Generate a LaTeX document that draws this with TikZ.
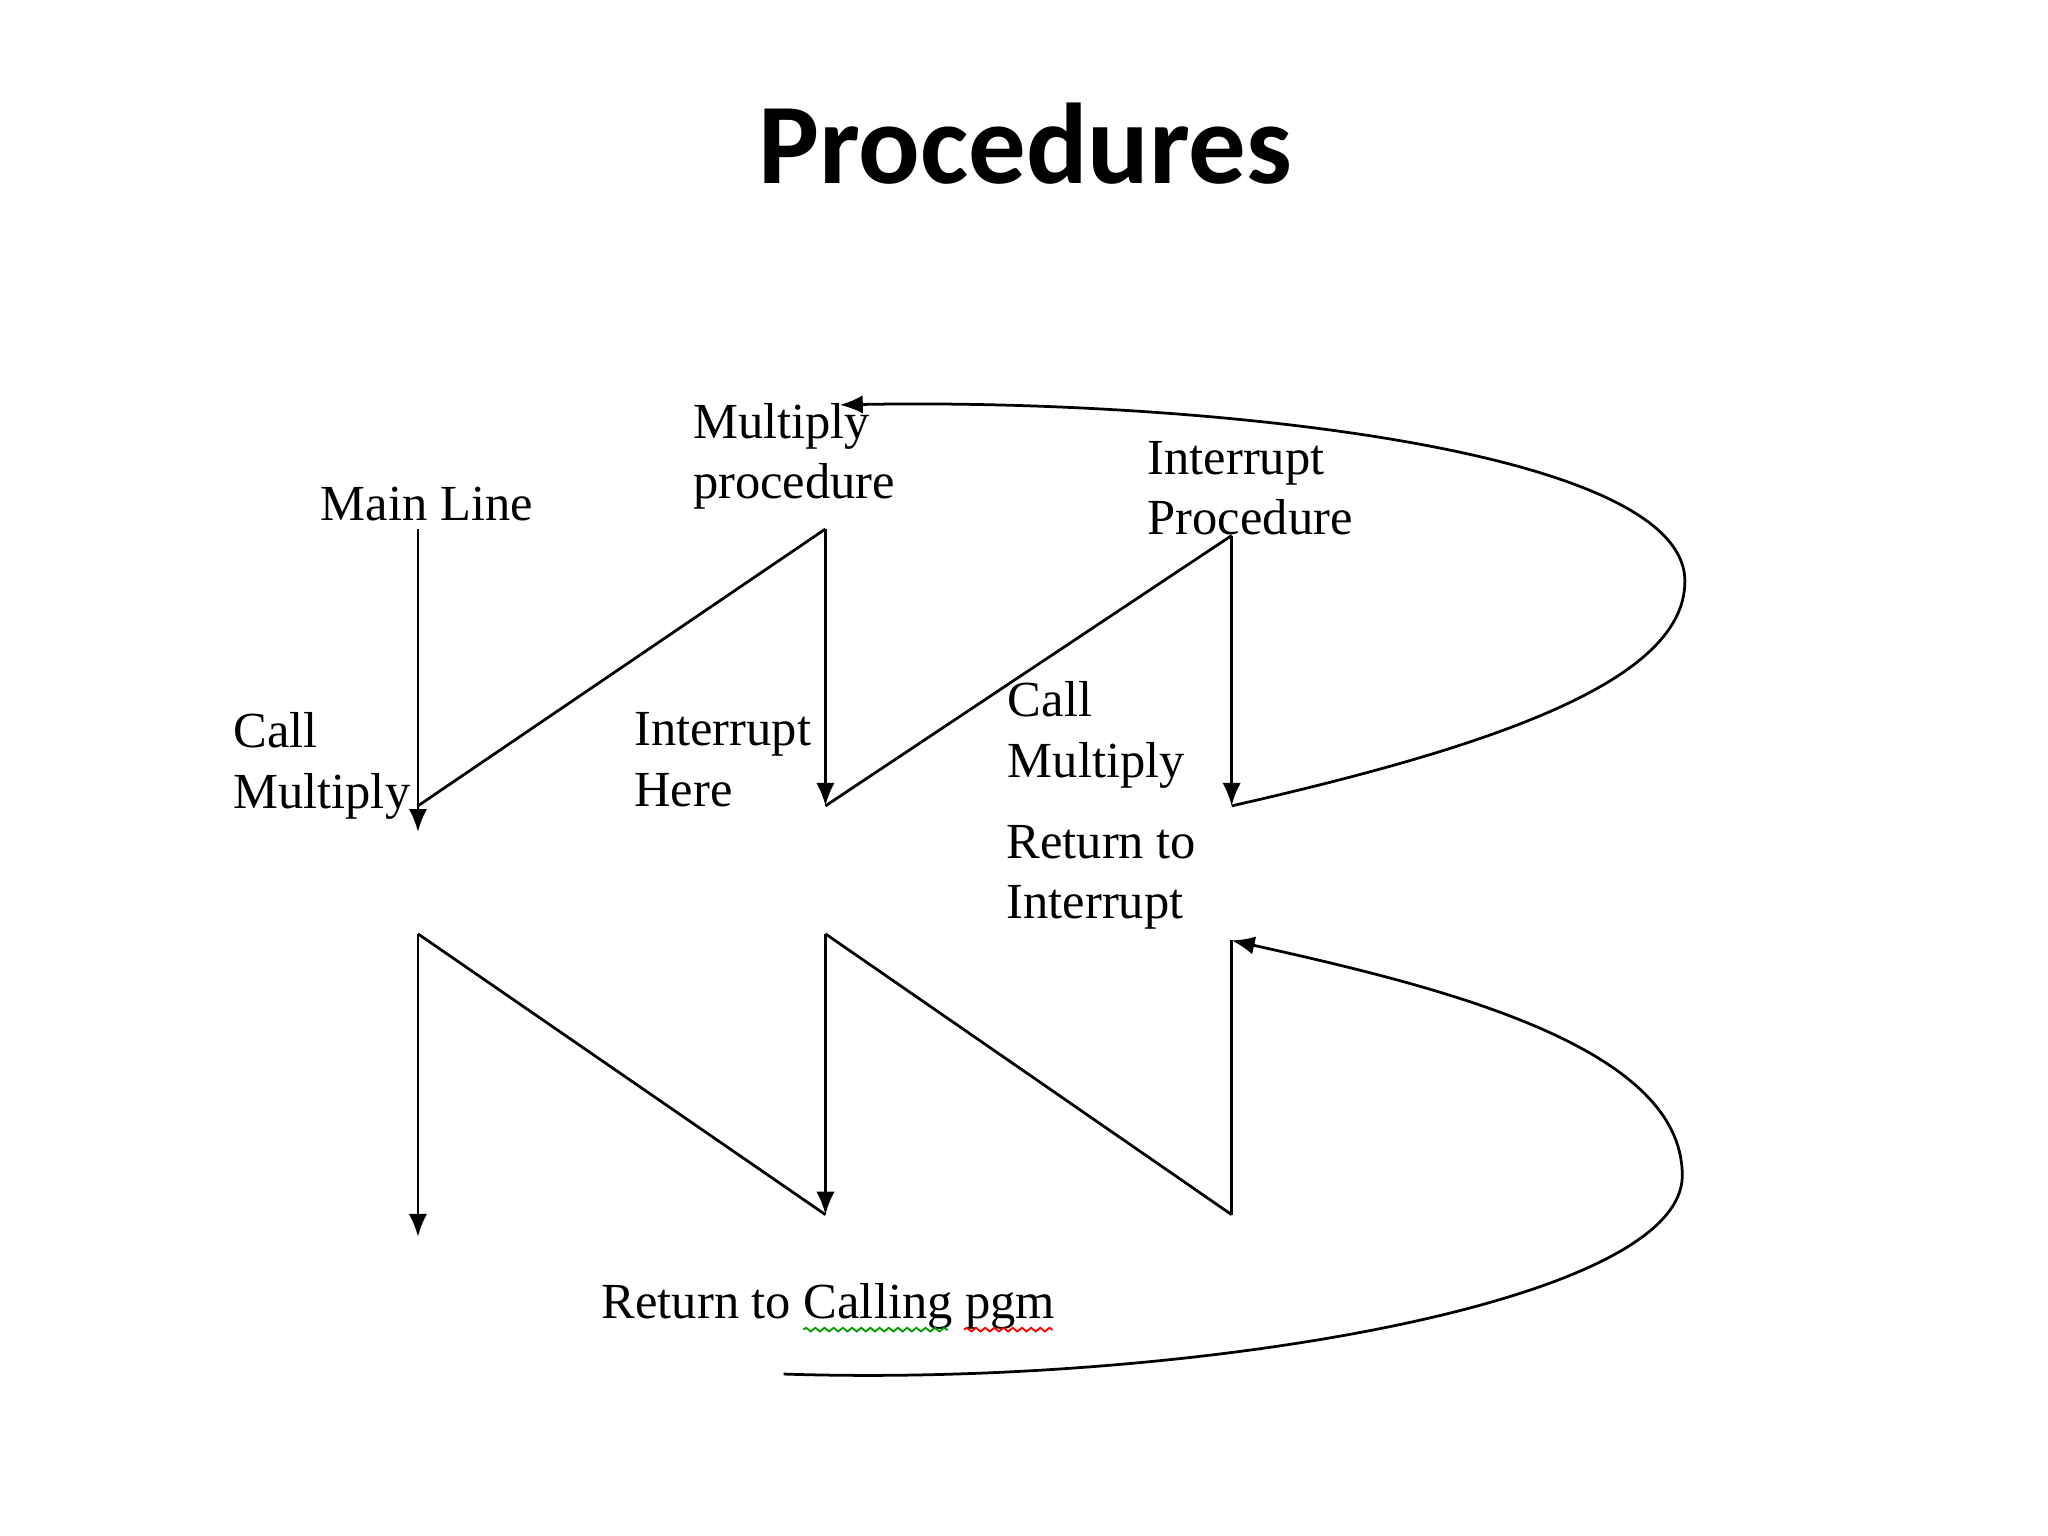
\documentclass[tikz,border=0pt]{standalone}
\usepackage{fontspec}
\setmainfont{Liberation Serif}
\newfontfamily\titlefont{Carlito}
\usetikzlibrary{decorations.pathmorphing,arrows.meta}
\begin{document}
\begin{tikzpicture}[x=0.01cm,y=-0.01cm,
  ln/.style={line width=0.6pt,black},
  arr/.style={ln,-{Latex[length=5pt,width=4pt]}},
  lbl/.style={font=\fontsize{11}{13.2}\selectfont,align=left,anchor=north west,inner sep=0pt},
  squig/.style={decorate,decoration={snake,amplitude=0.4pt,segment length=2pt},line width=0.4pt}]
\useasboundingbox (0,0) rectangle (1568,1176);
\node[font=\titlefont\bfseries\fontsize{25}{30}\selectfont] (title) at (785,110) {Procedures};
% coordinates
\coordinate (a1) at (320,405); \coordinate (a2) at (320,637); \coordinate (a2s) at (320,617);
\coordinate (b1) at (632,405); \coordinate (b2) at (632,617);
\coordinate (c1) at (943,410); \coordinate (c2) at (943,617);
\coordinate (d1) at (320,715); \coordinate (d2) at (320,947);
\coordinate (e1) at (632,715); \coordinate (e2) at (632,930);
\coordinate (f1) at (943,720); \coordinate (f2) at (943,930);
\coordinate (ttop) at (643,310); \coordinate (bend) at (600,1052);
% top
\draw[arr] (a1) -- (a2);
\draw[ln] (a2s) -- (b1);
\draw[arr] (b1) -- (b2);
\draw[ln] (b2) -- (c1);
\draw[arr] (c1) -- (c2);
\draw[arr] (c2) .. controls (1150,570) and (1290,520) .. (1290,445) .. controls (1290,340) and (900,305) .. (ttop);
% bottom
\draw[arr] (d1) -- (d2);
\draw[ln] (d1) -- (e2);
\draw[arr] (e1) -- (e2);
\draw[ln] (e1) -- (f2);
\draw[ln] (f2) -- (f1);
\draw[arr] (bend) .. controls (900,1062) and (1288,1000) .. (1288,900) .. controls (1288,800) and (1100,755) .. (f1);
% labels
\node[lbl] (ml) at (245,372) {Main Line};
\node[lbl] (mp) at (530,308) {Multiply\\procedure};
\node[lbl] (ip) at (878,337) {Interrupt\\Procedure};
\node[lbl] (cm1) at (178,545) {Call\\Multiply};
\node[lbl] (ih) at (485,545) {Interrupt\\Here};
\node[lbl] (cm2) at (771,521) {Call\\Multiply};
\node[lbl] (ri) at (770,631) {Return to\\Interrupt};
\node[lbl] (rc) at (460,982) {Return to Calling pgm};
\draw[squig,green!60!black] (615,1018) -- (726,1018);
\draw[squig,red] (738,1018) -- (806,1018);
\end{tikzpicture}
\end{document}
